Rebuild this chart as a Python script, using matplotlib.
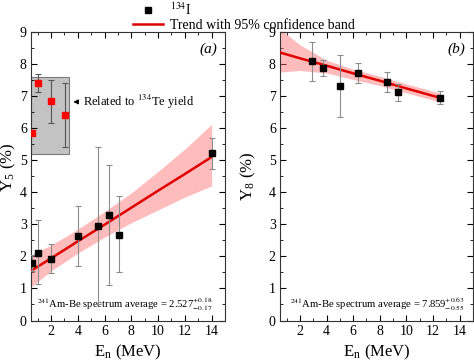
import numpy as np
import matplotlib.pyplot as plt
from matplotlib.patches import Rectangle
from matplotlib.lines import Line2D
from matplotlib.ticker import MultipleLocator

plt.rcParams['font.family'] = ['Liberation Serif', 'DejaVu Serif']
plt.rcParams['mathtext.fontset'] = 'stix'

# panel (a): Y5, 134I points
a_x = [0.55, 1.03, 2.03, 4.0, 5.5, 6.3, 7.1, 14.0]
a_y = [1.78, 2.12, 1.93, 2.64, 2.96, 3.28, 2.68, 5.21]
a_lo = [0.25, 0.99, 0.44, 0.93, 2.44, 2.17, 1.18, 0.49]
a_hi = [0.25, 1.00, 0.46, 0.94, 2.44, 1.56, 1.19, 0.48]

# panel (a): points related to 134Te yield
te_x = [0.55, 1.03, 2.03, 3.03]
te_y = [5.85, 7.41, 6.84, 6.41]
te_lo = [0.0, 0.28, 0.68, 1.0]
te_hi = [0.0, 0.28, 0.66, 1.0]

# panel (a): trend and 95% band
a_tx = [0.5, 2, 4, 6, 8, 10, 12, 14]
a_trend = [1.55, 1.94, 2.47, 2.99, 3.52, 4.05, 4.57, 5.10]
a_lower = [1.05, 1.55, 2.10, 2.60, 3.05, 3.45, 3.85, 4.20]
a_upper = [2.05, 2.35, 2.85, 3.40, 3.98, 4.65, 5.35, 6.12]

# panel (b): Y8
b_x = [2.9, 3.77, 5.0, 6.36, 8.55, 9.37, 12.5]
b_y = [8.08, 7.88, 7.32, 7.72, 7.45, 7.12, 6.95]
b_err = [0.61, 0.24, 0.97, 0.32, 0.31, 0.26, 0.21]

b_tx = [0.5, 2, 4, 6, 8, 10, 12.5]
b_trend = [8.36, 8.18, 7.95, 7.71, 7.48, 7.24, 6.95]
b_lower = [7.75, 7.80, 7.72, 7.52, 7.33, 7.10, 6.82]
b_upper = [9.10, 8.60, 8.12, 7.84, 7.62, 7.38, 7.10]

fig = plt.figure(figsize=(4.74, 3.64), dpi=100)
ax1 = fig.add_axes([0.0654, 0.1195, 0.4093, 0.7926])
ax2 = fig.add_axes([0.5907, 0.1195, 0.407, 0.7926])

ecol = '#8c8c8c'
for ax in (ax1, ax2):
    ax.set_xlim(0.5, 15)
    ax.set_ylim(0, 9)
    ax.xaxis.set_major_locator(MultipleLocator(2))
    ax.xaxis.set_minor_locator(MultipleLocator(1))
    ax.yaxis.set_major_locator(MultipleLocator(1))
    ax.yaxis.set_minor_locator(MultipleLocator(0.5))
    ax.tick_params(which='both', direction='in', top=True, right=True, labelsize=10, pad=3)
    ax.tick_params(which='major', length=4)
    ax.tick_params(which='minor', length=2.5)
    for s in ax.spines.values():
        s.set_color('#333333')
    ax.set_xlabel('E$_\\mathregular{n}$ (MeV)', fontsize=12)

# (a)
ax1.add_patch(Rectangle((0.5, 5.2), 2.87, 2.4, facecolor='#c3c3c3', edgecolor='#7a7a7a', lw=0.8, zorder=1))
ax1.fill_between(a_tx, a_lower, a_upper, color='#ff6b6b', alpha=0.45, lw=0, zorder=2)
ax1.plot(a_tx, a_trend, color='#e00000', lw=1.8, zorder=3)
ax1.errorbar(a_x, a_y, yerr=[a_lo, a_hi], fmt='s', color='black', ms=5, ecolor=ecol,
             elinewidth=0.8, capsize=2.5, capthick=0.8, zorder=4)
ax1.errorbar(te_x, te_y, yerr=[te_lo, te_hi], fmt='s', color='red', ms=5, ecolor='#555555',
             elinewidth=0.8, capsize=2.5, capthick=0.8, zorder=4)
ax1.annotate('Related to $^{134}$Te yield', xy=(3.45, 6.82), xytext=(4.35, 6.82),
             fontsize=9, va='center',
             arrowprops=dict(arrowstyle='-|>', color='black', lw=0.8, mutation_scale=7))
ax1.text(0.96, 0.94, '(a)', transform=ax1.transAxes, ha='right', va='center', fontsize=11, style='italic')
ax1.text(0.485, 0.025, '$^{241}$Am-Be spectrum average = 2.527$^{+0.18}_{-0.17}$',
         transform=ax1.transAxes, ha='center', va='bottom', fontsize=7.7)
ax1.set_ylabel('Y$_\\mathregular{5}$ (%)', fontsize=12)
ax1.yaxis.set_label_coords(-0.068, 0.53)

# (b)
ax2.fill_between(b_tx, b_lower, b_upper, color='#ff6b6b', alpha=0.45, lw=0, zorder=2)
ax2.plot(b_tx, b_trend, color='#e00000', lw=1.8, zorder=3)
ax2.errorbar(b_x, b_y, yerr=b_err, fmt='s', color='black', ms=5, ecolor=ecol,
             elinewidth=0.8, capsize=2.5, capthick=0.8, zorder=4)
ax2.text(0.96, 0.94, '(b)', transform=ax2.transAxes, ha='right', va='center', fontsize=11, style='italic')
ax2.text(0.505, 0.025, '$^{241}$Am-Be spectrum average = 7.859$^{+0.63}_{-0.55}$',
         transform=ax2.transAxes, ha='center', va='bottom', fontsize=7.7)
ax2.set_ylabel('Y$_\\mathregular{8}$ (%)', fontsize=12)
ax2.yaxis.set_label_coords(-0.112, 0.5)

handles = [Line2D([], [], ls='none', marker='s', color='black', ms=5),
           Line2D([], [], color='#e00000', lw=1.8)]
labels = ['$^{134}$I', 'Trend with 95% confidence band']
fig.legend(handles, labels, loc='upper center', bbox_to_anchor=(0.515, 1.022), ncol=1,
           frameon=False, fontsize=10, handlelength=2.2, handletextpad=0.5,
           borderpad=0.2, labelspacing=0.05)

fig.savefig('out.png', dpi=100)
